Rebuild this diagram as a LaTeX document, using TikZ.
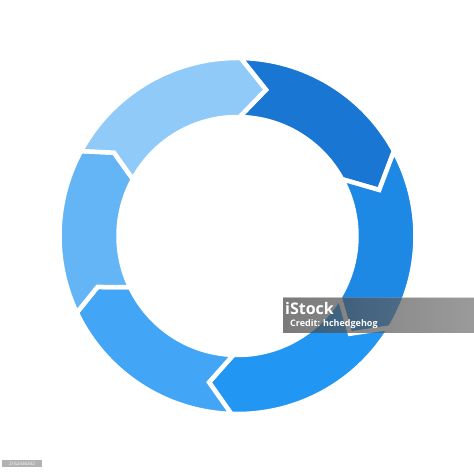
\documentclass[tikz,border=0pt]{standalone}
\usepackage{fontspec}
\setsansfont{Open Sans}
\definecolor{b200}{HTML}{90CAF9}
\definecolor{b300}{HTML}{64B5F6}
\definecolor{b400}{HTML}{42A5F5}
\definecolor{b500}{HTML}{2196F3}
\definecolor{b600}{HTML}{1E88E5}
\definecolor{b700}{HTML}{1976D2}
\tikzset{
  seg/.style={fill=#1, draw=white, line width=4.5pt, line join=miter},
  wmtext/.style={text=white, anchor=base west, inner sep=0pt}
}
\newcommand\ringseg[5]{% colour, start angle, end angle, start tip, end tip
  \path[seg=#1] (#2:\Ro) arc[start angle=#2, end angle=#3, radius=\Ro]
    -- (#5:\Rm) -- (#3:\Ri) arc[start angle=#3, end angle=#2, radius=\Ri]
    -- (#4:\Rm) -- cycle;}
\begin{document}
\begin{tikzpicture}[x=1pt,y=1pt]
\useasboundingbox (0,0) rectangle (474,474);
\fill[white] (0,0) rectangle (474,474);
\def\Ro{178pt}\def\Ri{119pt}\def\Rm{149pt}
\begin{scope}[shift={(237.5,238)}]
  \ringseg{b700}{89}{28.5}{79}{18}
  \ringseg{b600}{28.5}{-31}{18}{-41}
  \ringseg{b500}{-31}{-92}{-41}{-101}
  \ringseg{b400}{-92}{-154.5}{-101}{-160}
  \ringseg{b300}{-154.5}{-208.5}{-160}{-214}
  \ringseg{b200}{-208.5}{-271}{-214}{-281}
\end{scope}
% watermark
\fill[left color=black!60, right color=black!32, fill opacity=0.45] (283,141) rectangle (474,176);
\node[wmtext, font=\sffamily\bfseries\fontsize{16}{16}\selectfont] (wm1) at (285,159) {iStock};
\node[wmtext, font=\sffamily\bfseries\fontsize{9}{9}\selectfont] (wm2) at (290,147) {Credit: hchedgehog};
\fill[black!30] (2,7) rectangle (42,14);
\node[text=white, inner sep=0pt, font=\sffamily\fontsize{4.5}{4.5}\selectfont] (id) at (22,10.5) {2162436342};
\end{tikzpicture}
\end{document}
